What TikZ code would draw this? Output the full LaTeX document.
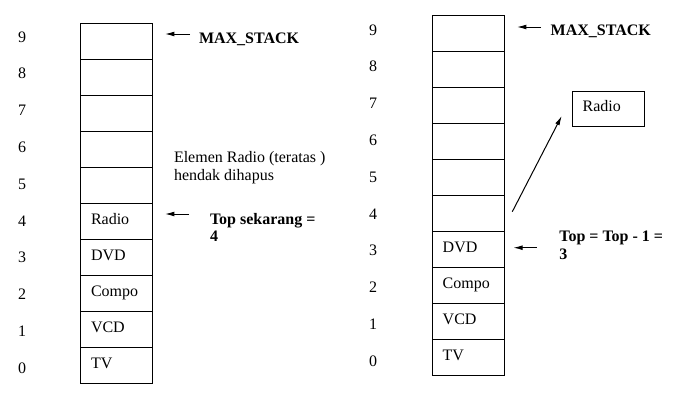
\documentclass[tikz,border=0pt]{standalone}
\usepackage{fontspec}
\setmainfont{Liberation Serif}
\usetikzlibrary{arrows.meta}
\begin{document}
\begin{tikzpicture}[x=0.75pt,y=-0.75pt,
  every node/.style={font=\fontsize{12pt}{13.2pt}\selectfont, inner sep=0pt, outer sep=0pt},
  cell/.style={draw, line width=0.75pt, minimum width=54.5pt, minimum height=27pt, anchor=north west},
  txt/.style={anchor=base west},
  num/.style={anchor=base},
  bold/.style={anchor=base west, align=left, font=\fontsize{12pt}{13.2pt}\selectfont\bfseries},
  arr/.style={-{Latex[length=7pt,width=3.6pt]}, line width=0.75pt}
]
\useasboundingbox (0,0) rectangle (679,400);

% ---------- left stack ----------
\foreach \i in {0,...,9} {
  \node[cell] (L\i) at (80,{23+36*(9-\i)}) {};
  \node[num] (LN\i) at (22,{42+36.8*(9-\i)}) {\i};
}
\foreach \i/\t in {0/TV,1/VCD,2/Compo,3/DVD,4/Radio} {
  \node[txt] (LT\i) at (91,{23+36*(10-\i)-15}) {\t};
}
\coordinate (la1s) at (190,34);
\coordinate (la1e) at (165,34);
\draw[arr] (la1s) -- (la1e);
\node[bold] (lmax) at (199,43) {MAX\_STACK};

\node[txt, align=left] (lel) at (174,180.5) {Elemen Radio (teratas )\\hendak dihapus};

\coordinate (la2s) at (189,214);
\coordinate (la2e) at (165,214);
\draw[arr] (la2s) -- (la2e);
\node[bold] (ltop) at (210,241.7) {Top sekarang =\\4};

% ---------- right stack ----------
\foreach \i in {0,...,9} {
  \node[cell, minimum width=54pt] (R\i) at (432.3,{15+36*(9-\i)}) {};
  \node[num] (RN\i) at (373,{35+36.8*(9-\i)}) {\i};
}
\foreach \i/\t in {0/TV,1/VCD,2/Compo,3/DVD} {
  \node[txt] (RT\i) at (442.7,{15+36*(10-\i)-15}) {\t};
}
\coordinate (ra1s) at (541,27);
\coordinate (ra1e) at (517,27);
\draw[arr] (ra1s) -- (ra1e);
\node[bold] (rmax) at (550.7,35) {MAX\_STACK};

\node[draw, line width=0.75pt, minimum width=54pt, minimum height=26.8pt] (rbox) at (608.3,108.9) {};
\node[txt] (rradio) at (582.7,111.7) {Radio};

\coordinate (rds) at (512.3,211.7);
\coordinate (rde) at (561.7,116);
\draw[arr] (rds) -- (rde);

\coordinate (ra2s) at (536.7,247.7);
\coordinate (ra2e) at (513.3,247.7);
\draw[arr] (ra2s) -- (ra2e);
\node[bold] (rtop) at (559.3,259.3) {Top = Top - 1 =\\3};
\end{tikzpicture}
\end{document}
